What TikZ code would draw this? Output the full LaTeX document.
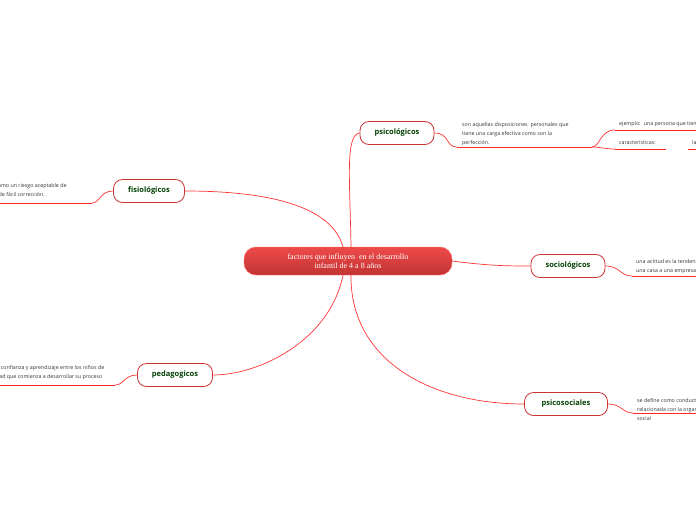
\documentclass[tikz,border=0pt]{standalone}
\usepackage{fontspec}
\setmainfont{Open Sans}
\newfontfamily\serifc{Liberation Serif}
\definecolor{ctop}{HTML}{EE4A4A}
\definecolor{cbot}{HTML}{C23333}
\begin{document}
\begin{tikzpicture}[x=1pt,y=-1pt,
  topic/.style={draw=red!75!black!80, line width=0.8pt, fill=white, rounded corners=9pt, minimum height=23pt, inner xsep=8pt, font=\bfseries\fontsize{7.5}{9}\selectfont, text=green!25!black},
  note/.style={anchor=west, align=left, font=\fontsize{5.3}{9}\selectfont, text=black!80, inner sep=0pt},
  link/.style={draw=red!80, line width=0.7pt},
  uline/.style={draw=red!85, line width=1pt}]
\useasboundingbox (0,0) rectangle (696,520);
\begin{scope}
\clip (0,0) rectangle (696,520);
% central
\node[rounded corners=12pt, minimum width=208pt, minimum height=28pt, top color=ctop, bottom color=cbot, draw=red!60, text=white, align=center, font=\serifc\fontsize{8}{9.5}\selectfont] (c) at (348,261) {factores que influyen \ en el desarrollo\\infantil de 4 a 8 años};
\node[topic, minimum width=74pt] (ps) at (397,133) {psicológicos};
\node[topic, minimum width=71pt] (fi) at (149,191) {fisiológicos};
\node[topic, minimum width=74pt] (so) at (568,266) {sociológicos};
\node[topic, minimum width=75pt] (pe) at (175,375) {pedagogicos};
\node[topic, minimum width=83pt] (pc) at (566,404) {psicosociales};
% connectors from center
\draw[link] (c.north) ++(3,0) coordinate (c1) (c1) .. controls (350,180) and (345,135) .. (ps.west);
\draw[link] (c.north) ++(-5,0) coordinate (c2) (c2) .. controls (330,200) and (250,191) .. (fi.east);
\draw[link] (c.east) .. controls (490,266) and (510,266) .. (so.west);
\draw[link] (c.south) ++(-5,0) coordinate (c3) (c3) .. controls (330,340) and (260,375) .. (pe.east);
\draw[link] (c.south) ++(3,0) coordinate (c4) (c4) .. controls (350,360) and (430,404) .. (pc.west);
% psicológicos detail
\node[note] (t1) at (462,134) {son aquellas disposiciones \ personales que\\tiene una carga efectiva como son la\\perfección.};
\coordinate (u1a) at (457,147); \coordinate (u1b) at (592,147);
\draw[link] (ps.east) .. controls (450,133) and (445,147) .. (u1a);
\draw[uline] (u1a) -- (u1b);
\coordinate (e1) at (615,130); \coordinate (e2) at (615,149);
\draw[link] (u1b) .. controls (600,147) and (600,130) .. (e1);
\draw[link] (u1b) .. controls (600,147) and (605,149) .. (e2);
\draw[uline] (e1) -- (696,130);
\draw[uline] (e2) -- (666,149);
\draw[uline] (688,149) -- (696,149);
\node[note] (t1a) at (619,124) {ejemplo: \ una persona que tiene};
\node[note] (t1b) at (619,143) {características:};
\node[note] (t1c) at (692,143) {la};
% fisiológicos
\node[note, anchor=north west] (t2) at (-29,183) {aceptada como un riesgo aceptable de\\salud pero de fácil corrección.};
\coordinate (u2) at (92,203);
\draw[link] (fi.west) .. controls (100,191) and (100,203) .. (u2);
\draw[uline] (u2) -- (0,203);
% sociológicos
\node[note] (t3) at (636,267) {una actitud es la tendencia de\\una casa a una empresa};
\coordinate (u3) at (632,276);
\draw[link] (so.east) .. controls (620,266) and (620,276) .. (u3);
\draw[uline] (u3) -- (696,276);
% pedagogicos
\node[note, anchor=north west] (t4) at (-7,365) {de confianza y aprendizaje entre los niños de\\edad que comienza a desarrollar su proceso};
\coordinate (u4) at (115,385);
\draw[link] (pe.west) .. controls (124,375) and (124,385) .. (u4);
\draw[uline] (u4) -- (0,385);
% psicosociales
\node[note] (t5) at (637,409) {se define como conducta\\relacionada con la organización\\social};
\coordinate (u5) at (633,413);
\draw[link] (pc.east) .. controls (622,404) and (622,413) .. (u5);
\draw[uline] (u5) -- (696,413);
\end{scope}
\end{tikzpicture}
\end{document}
